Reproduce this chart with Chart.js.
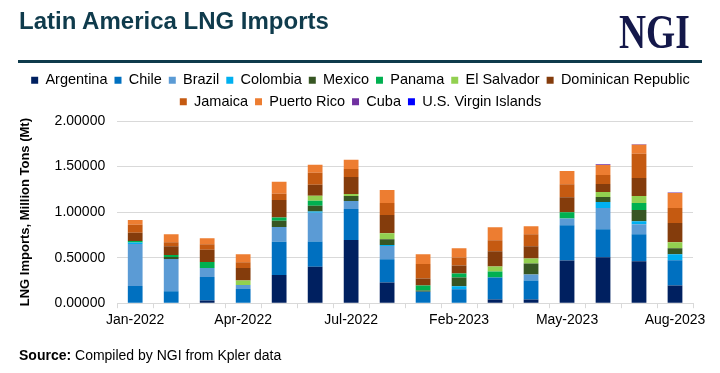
<!DOCTYPE html>
<html>
<head>
<meta charset="utf-8">
<script src="https://cdn.jsdelivr.net/npm/chart.js@4"></script>
<style>
  body { margin: 0; background: #fff; }
  #wrap { position: relative; width: 720px; height: 373px; overflow: hidden; font-family: "Liberation Sans", Arial, sans-serif; }
  #title { position: absolute; left: 19px; top: 9px; font-size: 24px; line-height: 24px; font-weight: bold; color: #0f3b4c; }
  #logo { position: absolute; left: 619px; top: 8px; font-family: "Liberation Serif", "Times New Roman", serif; font-weight: bold; font-size: 48px; line-height: 48px; color: #14184a; transform: scaleX(0.78); transform-origin: left top; }
  #rule { position: absolute; left: 18px; top: 60px; width: 684px; height: 2.5px; background: #0f3b4c; }
  #source { position: absolute; left: 19px; top: 347px; font-size: 14px; line-height: 16px; color: #000; }
  canvas { position: absolute; left: 0; top: 0; }
</style>
</head>
<body>
<div id="wrap">
  <canvas id="lngChart" width="720" height="373"></canvas>
  <div id="title">Latin America LNG Imports</div>
  <div id="logo">NGI</div>
  <div id="rule"></div>
  <div id="source"><b>Source:</b> Compiled by NGI from Kpler data</div>
</div>
<script>
// months shown (Jan-Aug of 2022 and 2023)
const months = ['Jan-2022', 'Feb-2022', 'Mar-2022', 'Apr-2022', 'May-2022', 'Jun-2022', 'Jul-2022', 'Aug-2022',
                'Jan-2023', 'Feb-2023', 'Mar-2023', 'Apr-2023', 'May-2023', 'Jun-2023', 'Jul-2023', 'Aug-2023']

// imports by country, million tons
const argentina = [0, 0, 0.03, 0, 0.31, 0.40, 0.695, 0.228, 0, 0, 0.04, 0.04, 0.47, 0.504, 0.46, 0.195]
const chile = [0.19, 0.13, 0.257, 0.155, 0.364, 0.276, 0.338, 0.254, 0.125, 0.154, 0.243, 0.21, 0.386, 0.309, 0.297, 0.276]
const brazil = [0.46, 0.355, 0.10, 0.045, 0.162, 0.316, 0.088, 0.147, 0, 0, 0, 0.066, 0.073, 0.232, 0.111, 0]
const colombia = [0.015, 0, 0, 0, 0, 0.015, 0, 0.011, 0, 0.033, 0, 0, 0, 0.066, 0.032, 0.066]
const mexico = [0, 0.022, 0, 0, 0.07, 0.062, 0.055, 0.062, 0.015, 0.096, 0, 0.121, 0, 0.055, 0.122, 0.066]
const panama = [0.017, 0.022, 0.066, 0, 0.034, 0.055, 0, 0, 0.055, 0.044, 0.066, 0, 0.07, 0, 0.077, 0]
const elSalvador = [0, 0, 0, 0.05, 0, 0.055, 0.023, 0.066, 0, 0, 0.055, 0.055, 0, 0.055, 0.077, 0.066]
const dominicanRep = [0.09, 0.096, 0.133, 0.136, 0.194, 0.122, 0.187, 0.199, 0.077, 0.088, 0.165, 0.132, 0.165, 0.088, 0.199, 0.21]
const jamaica = [0.09, 0.044, 0.062, 0.063, 0.067, 0.132, 0.088, 0.132, 0.158, 0.088, 0.121, 0.132, 0.143, 0.099, 0.265, 0.165]
const puertoRico = [0.05, 0.088, 0.066, 0.088, 0.132, 0.088, 0.10, 0.144, 0.107, 0.099, 0.143, 0.088, 0.143, 0.11, 0.099, 0.166]
const cuba = [0, 0, 0, 0, 0, 0, 0, 0, 0, 0, 0, 0, 0, 0.006, 0.006, 0.006]
const usVirginIslands = [0, 0, 0, 0, 0, 0, 0, 0, 0, 0, 0, 0, 0, 0, 0, 0]

const yTicks = [0, 0.5, 1, 1.5, 2]

const series = [
    ['Argentina', argentina, '#002060'],
    ['Chile', chile, '#0070C0'],
    ['Brazil', brazil, '#5B9BD5'],
    ['Colombia', colombia, '#00B0F0'],
    ['Mexico', mexico, '#375623'],
    ['Panama', panama, '#00B050'],
    ['El Salvador', elSalvador, '#92D050'],
    ['Dominican Republic', dominicanRep, '#843C0C'],
    ['Jamaica', jamaica, '#C55A11'],
    ['Puerto Rico', puertoRico, '#ED7D31'],
    ['Cuba', cuba, '#7030A0'],
    ['U.S. Virgin Islands', usVirginIslands, '#0000FF']
]

Chart.defaults.font.family = '"Liberation Sans", Arial, sans-serif'
Chart.defaults.color = '#000'

// legend sits centred on the whole page, not the padded area
const legendNudge = {
    id: 'legendNudge',
    afterLayout(chart) {
        const l = chart.legend
        l.left += 12
        l.right += 12
        l.top -= 2
        l.bottom -= 2
    }
}

const ctx = document.getElementById('lngChart').getContext('2d')

new Chart(ctx, {
    type: 'bar',
    data: {
        labels: months,
        datasets: series.map(([name, values, color]) => ({
            label: name,
            data: values,
            backgroundColor: color,
            borderWidth: 0,
            barPercentage: 0.41,
            categoryPercentage: 1
        }))
    },
    options: {
        responsive: false,
        animation: false,
        layout: { padding: { top: 68, left: 4, right: 27, bottom: 40 } },
        plugins: {
            tooltip: { enabled: false },
            legend: {
                position: 'top',
                labels: { boxWidth: 7, boxHeight: 7, padding: 7, font: { size: 14.5 }, color: '#000' }
            }
        },
        scales: {
            x: {
                stacked: true,
                border: { display: true, color: '#d9d9d9' },
                grid: { offset: true, drawOnChartArea: false, drawTicks: true, tickLength: 5, color: '#d9d9d9' },
                ticks: {
                    autoSkip: false,
                    maxRotation: 0,
                    padding: 4,
                    font: { size: 14 },
                    callback: (v, i) => (i % 3 === 0 ? months[i] : '')
                }
            },
            y: {
                stacked: true,
                min: 0,
                max: 2,
                afterBuildTicks: axis => { axis.ticks = yTicks.map(v => ({ value: v })) },
                border: { display: false },
                grid: { color: '#d9d9d9', drawTicks: false },
                ticks: { padding: 12, font: { size: 14 }, callback: v => v.toFixed(5) },
                title: {
                    display: true,
                    text: 'LNG Imports, Million Tons (Mt)',
                    font: { size: 13, weight: 'bold' },
                    padding: { top: 14, bottom: 9 }
                }
            }
        }
    },
    plugins: [legendNudge]
})
</script>
</body>
</html>
